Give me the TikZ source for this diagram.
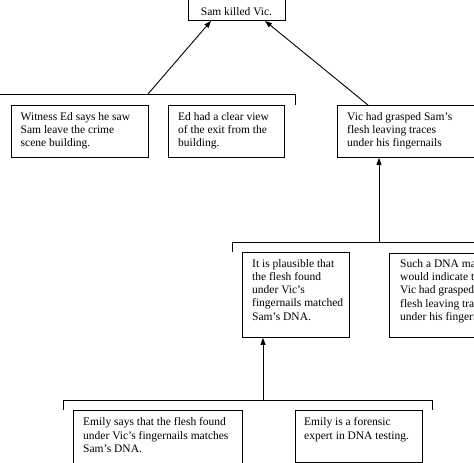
\documentclass[tikz,border=0pt]{standalone}
\usepackage{fontspec}
\setmainfont{Liberation Serif}
\usetikzlibrary{arrows.meta,calc}
\begin{document}
\begin{tikzpicture}[x=1pt,y=-1pt,
  box/.style={draw,line width=0.9pt,inner sep=0pt,anchor=north west},
  txt/.style={inner sep=0pt,anchor=north west,align=left,font=\fontsize{11.5}{13.2}\selectfont},
  conn/.style={line width=0.9pt},
  arr/.style={line width=0.9pt,-{Triangle[length=7pt,width=5pt]}}]
\useasboundingbox (0,0) rectangle (474,463);
\clip (0,0) rectangle (474,463);
% claim
\node[box,minimum width=97pt,minimum height=40pt] (c) at (188,-20) {};
\node[txt,anchor=base] (ct) at (236.5,15) {Sam killed Vic.};
% first level
\node[box,minimum width=137pt,minimum height=52pt] (w1) at (11,105) {};
\node[txt] (w1t) at ($(w1.north west)+(9.5,5.8)$) {\strut Witness Ed says he saw\\Sam leave the crime\\scene building.};
\node[box,minimum width=116pt,minimum height=52pt] (w2) at (168,105) {};
\node[txt] (w2t) at ($(w2.north west)+(10,5.8)$) {\strut Ed had a clear view\\of the exit from the\\building.};
\node[box,minimum width=160pt,minimum height=52pt] (v) at (337,105) {};
\node[txt] (vt) at ($(v.north west)+(10,5.8)$) {\strut Vic had grasped Sam’s\\flesh leaving traces\\under his fingernails};
% bracket 1
\coordinate (b1) at (148,94);
\draw[conn] (-10,94) -- (295,94) -- (295,105);
\draw[arr] (b1) -- ($(c.south west)+(23,0)$);
\draw[arr] ($(v.north west)+(31,0)$) -- ($(c.south west)+(77,0)$);
% second level
\node[box,minimum width=107pt,minimum height=85pt] (p) at (242,252) {};
\node[txt] (pt) at ($(p.north west)+(10,5.8)$) {\strut It is plausible that\\the flesh found\\under Vic’s\\fingernails matched\\Sam’s DNA.};
\node[box,minimum width=120pt,minimum height=84pt] (s) at (389,253) {};
\node[txt] (st) at ($(s.north west)+(11,5)$) {\strut Such a DNA match\\would indicate that\\Vic had grasped Sam’s\\flesh leaving traces\\under his fingernails};
\coordinate (b2) at (379,242);
\draw[conn] (232,252) -- (232,242) -- (490,242);
\draw[arr] (b2) -- ($(v.south west)+(42,0)$);
% third level
\node[box,minimum width=169pt,minimum height=65pt] (e1) at (73,410) {};
\node[txt] (e1t) at ($(e1.north west)+(10,6.5)$) {\strut Emily says that the flesh found\\under Vic’s fingernails matches\\Sam’s DNA.};
\node[box,minimum width=127pt,minimum height=52pt] (e2) at (295,410) {};
\node[txt] (e2t) at ($(e2.north west)+(9,6.5)$) {\strut Emily is a forensic\\expert in DNA testing.};
\coordinate (b3) at (263,400);
\draw[conn] (63,410) -- (63,400) -- (432,400) -- (432,410);
\draw[arr] (b3) -- ($(p.south west)+(21,0)$);
\end{tikzpicture}
\end{document}
